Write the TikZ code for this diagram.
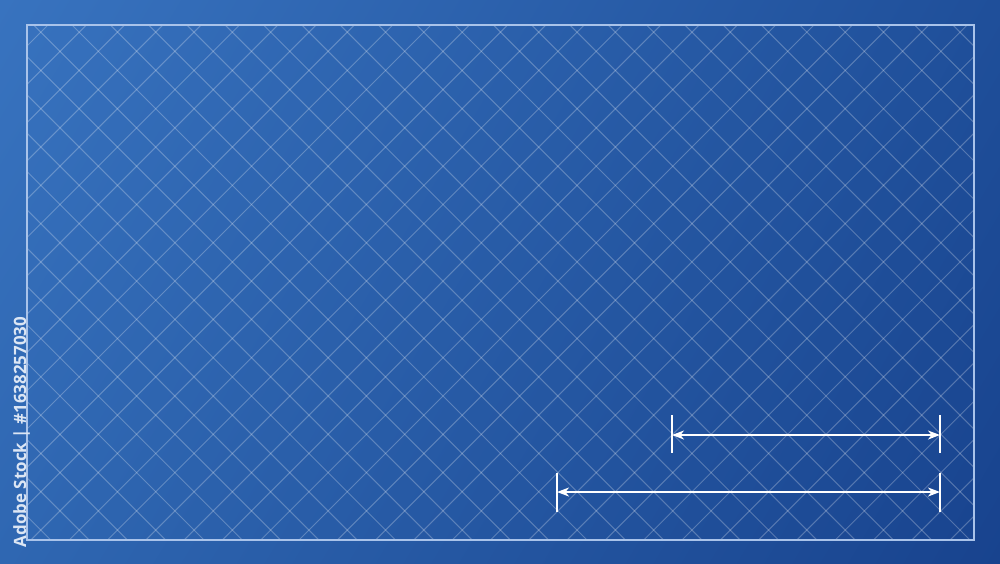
\documentclass[tikz,border=0pt]{standalone}
\usepackage{fontspec}
\newfontfamily\wmfont{Open Sans}
\usetikzlibrary{arrows.meta,shadings}
\definecolor{bgUL}{HTML}{3873BF}
\definecolor{bgUR}{HTML}{1F4F9A}
\definecolor{bgLL}{HTML}{2F67B2}
\definecolor{bgLR}{HTML}{18438E}
\definecolor{framecol}{HTML}{A9C3EA}
\definecolor{wmcol}{HTML}{DCE6F4}
\tikzset{
  gridline/.style={white, opacity=0.25, line width=1pt},
  framebox/.style={draw=framecol, line width=1.8pt},
  dimtick/.style={white, line width=1.3pt},
  dimline/.style={white, line width=1.3pt, {Stealth[length=12pt,width=9pt,inset=3.5pt]}-{Stealth[length=12pt,width=9pt,inset=3.5pt]}},
  wmtext/.style={text=wmcol, rotate=90, inner sep=0pt}
}
\begin{document}
\begin{tikzpicture}[x=1pt, y=-1pt]
  % background with its margins
  \useasboundingbox (0,0) rectangle (1000,563);
  \shade[upper left=bgUL, upper right=bgUR, lower left=bgLL, lower right=bgLR] (0,0) rectangle (1000,563);
  % diagonal grid, clipped to the frame
  \begin{scope}
    \clip (26,24) rectangle (973,539);
    \foreach \k in {-14,...,25} {
      \pgfmathsetmacro{\cc}{8.7+38.3*\k}
      \draw[gridline] (\cc,0) -- ({\cc+563},563);
    }
    \foreach \k in {-2,...,37} {
      \pgfmathsetmacro{\cc}{111.3+38.3*\k}
      \draw[gridline] (\cc,0) -- ({\cc-563},563);
    }
  \end{scope}
  % frame
  \node[framebox, inner sep=0pt, minimum width=947pt, minimum height=515pt, anchor=north west] (frame) at (26,24) {};
  % upper dimension line
  \coordinate (uAt) at (672,415); \coordinate (uAb) at (672,453);
  \coordinate (uBt) at (940,415); \coordinate (uBb) at (940,453);
  \coordinate (uA) at (672,435); \coordinate (uB) at (940,435);
  \draw[dimtick] (uAt) -- (uAb);
  \draw[dimtick] (uBt) -- (uBb);
  \draw[dimline] (uA) -- (uB);
  % lower dimension line
  \coordinate (lAt) at (557,473); \coordinate (lAb) at (557,512);
  \coordinate (lBt) at (940,473); \coordinate (lBb) at (940,512);
  \coordinate (lA) at (557,492); \coordinate (lB) at (940,492);
  \draw[dimtick] (lAt) -- (lAb);
  \draw[dimtick] (lBt) -- (lBb);
  \draw[dimline] (lA) -- (lB);
  % vertical stock text
  \node[wmtext] (wm) at (21.5,432) {\resizebox{230pt}{!}{\wmfont\bfseries Adobe Stock | \#1638257030}};
\end{tikzpicture}
\end{document}
